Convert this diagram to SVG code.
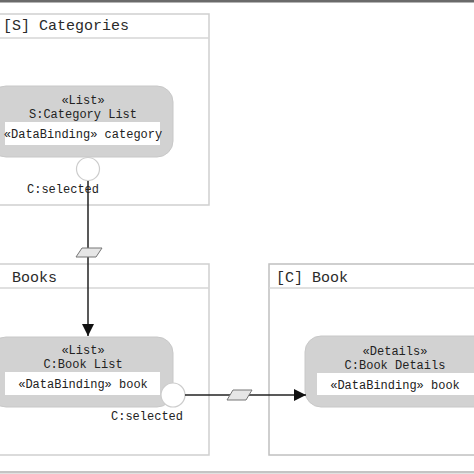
<svg xmlns="http://www.w3.org/2000/svg" width="474" height="474" viewBox="0 0 474 474">
<style>
.frame{fill:#fff;stroke:#cfcfcf;stroke-width:1.5}
.sep{stroke:#d6d6d6;stroke-width:1.5}
.title{font-family:"Liberation Mono","DejaVu Sans Mono",monospace;font-size:15px;fill:#2a2a2a}
.node{fill:#d2d2d2;stroke:#c8c8c8;stroke-width:1}
.bind{fill:#fff}
.t{font-family:"Liberation Mono","DejaVu Sans Mono",monospace;font-size:12px;fill:#222;text-anchor:middle}
.lbl{font-family:"Liberation Mono","DejaVu Sans Mono",monospace;font-size:12px;fill:#222}
.port{fill:#fff;stroke:#cccccc;stroke-width:1.2}
.edge{stroke:#222;stroke-width:1.5;fill:none}
.flow{fill:#e6e6e6;stroke:#777;stroke-width:1}
</style>
<defs>
<marker id="arr" viewBox="0 0 12 12" refX="12" refY="6" markerWidth="12" markerHeight="12" markerUnits="userSpaceOnUse" orient="auto">
<path d="M0,0 L12,6 L0,12 Z" fill="#111"/>
</marker>
</defs>
<rect x="0" y="0" width="474" height="2.5" fill="#6a6a6a"/>
<rect x="0" y="471" width="474" height="2.5" fill="#c4c4c4"/>

<g id="frame-categories">
<rect class="frame" x="-5" y="14" width="214" height="191"/>
<line class="sep" x1="-5" y1="38" x2="209" y2="38"/>
<text class="title" x="3" y="30">[S] Categories</text>
</g>
<g id="frame-books">
<rect class="frame" x="-5" y="264" width="214" height="191"/>
<line class="sep" x1="-5" y1="288" x2="209" y2="288"/>
<text class="title" x="12" y="282">Books</text>
</g>
<g id="frame-book">
<rect class="frame" x="269" y="264" width="210" height="191" style="stroke:#c0c0c0"/>
<line class="sep" x1="269" y1="288" x2="479" y2="288"/>
<text class="title" x="276" y="282">[C] Book</text>
</g>

<g id="node-category-list">
<rect class="node" x="-10" y="86" width="183" height="71" rx="16"/>
<text class="t" x="83" y="104">«List»</text>
<text class="t" x="83" y="118">S:Category List</text>
<rect class="bind" x="5" y="122" width="155" height="23"/>
<text class="t" x="83" y="138">«DataBinding» category</text>
</g>
<g id="port-category-selected">
<circle class="port" cx="88" cy="169" r="11.5"/>
<text class="lbl" x="27" y="193">C:selected</text>
</g>

<g id="node-book-list">
<rect class="node" x="-10" y="337" width="183" height="70" rx="16"/>
<text class="t" x="83" y="354">«List»</text>
<text class="t" x="83" y="368">C:Book List</text>
<rect class="bind" x="5" y="372" width="155" height="23"/>
<text class="t" x="83" y="388">«DataBinding» book</text>
</g>
<g id="port-book-selected">
<circle class="port" cx="173" cy="395" r="12"/>
<text class="lbl" x="111" y="420">C:selected</text>
</g>

<g id="node-book-details">
<rect class="node" x="305" y="336" width="185" height="71" rx="16"/>
<text class="t" x="395" y="355">«Details»</text>
<text class="t" x="395" y="369">C:Book Details</text>
<rect class="bind" x="317" y="373" width="160" height="22"/>
<text class="t" x="395" y="389">«DataBinding» book</text>
</g>

<g id="connectors">
<line class="edge" x1="88" y1="181" x2="88" y2="336" marker-end="url(#arr)"/>
<polygon class="flow" points="82,248 102,248 96,257 76,257"/>
<line class="edge" x1="185" y1="395" x2="306" y2="395" marker-end="url(#arr)"/>
<polygon class="flow" points="233,390 252,390 246,400 227,400"/>
</g>
</svg>
